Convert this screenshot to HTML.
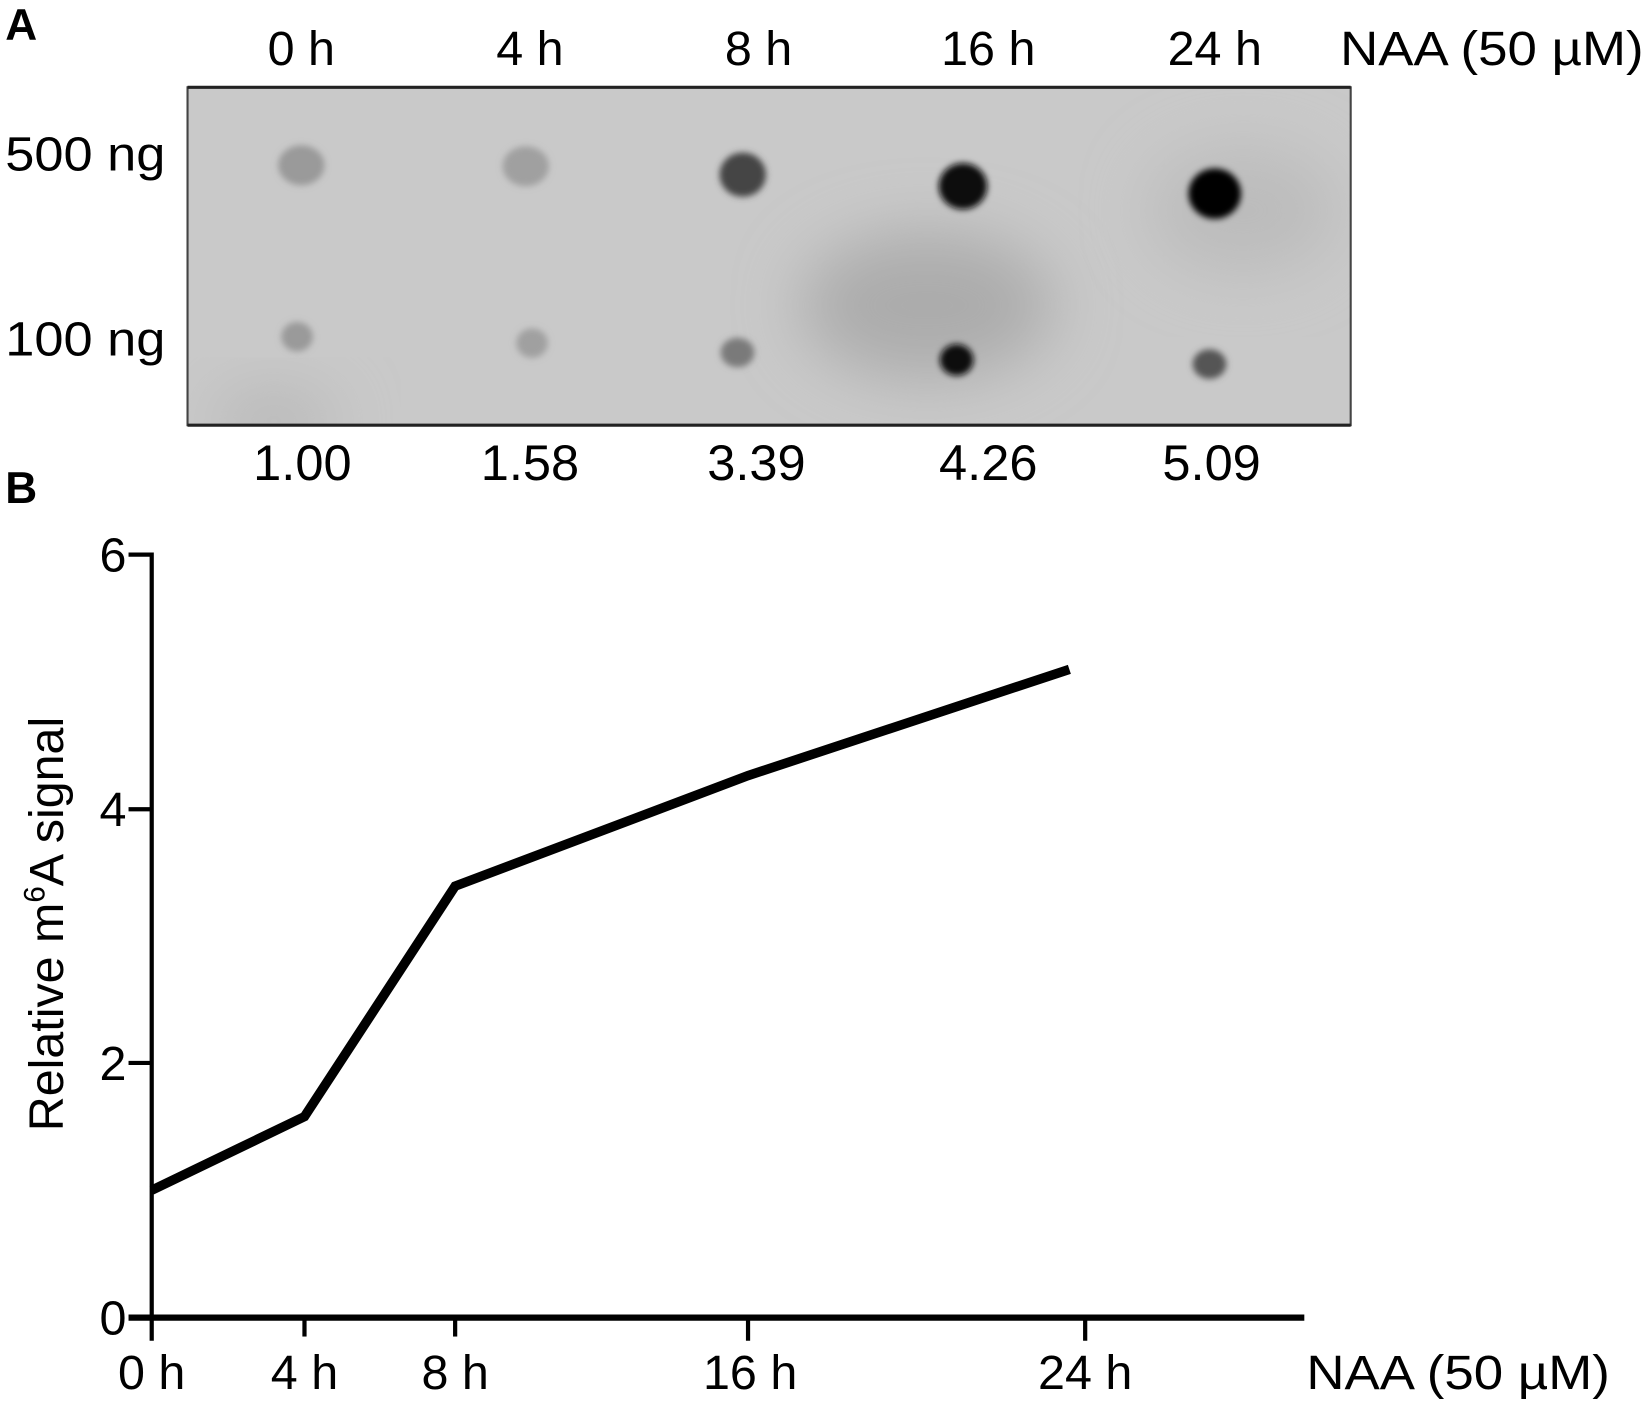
<!DOCTYPE html>
<html><head><meta charset="utf-8"><style>html,body{margin:0;padding:0;background:#fff}svg{display:block}</style></head>
<body>
<svg width="1652" height="1406" viewBox="0 0 1568 1336" preserveAspectRatio="none" xmlns="http://www.w3.org/2000/svg" font-family="Liberation Sans, sans-serif">
<defs>
<filter id="b" x="-50%" y="-50%" width="200%" height="200%"><feGaussianBlur stdDeviation="3"/></filter>
<filter id="bb" x="-50%" y="-50%" width="200%" height="200%"><feGaussianBlur stdDeviation="30"/></filter>
<clipPath id="c"><rect x="178" y="82" width="1104" height="323"/></clipPath>
</defs>
<text x="5" y="38" font-size="42" font-weight="bold">A</text>
<text x="5" y="478" font-size="42" font-weight="bold">B</text>
<g font-size="46" text-anchor="middle">
<text x="286" y="62">0 h</text><text x="503" y="62">4 h</text><text x="720" y="62">8 h</text><text x="938" y="62">16 h</text><text x="1153" y="62">24 h</text>
</g>
<text x="1272" y="62" font-size="46" textLength="288" lengthAdjust="spacingAndGlyphs">NAA (50 µM)</text>
<text x="5" y="162" font-size="46" textLength="152" lengthAdjust="spacingAndGlyphs">500 ng</text>
<text x="5" y="338" font-size="46" textLength="152" lengthAdjust="spacingAndGlyphs">100 ng</text>
<rect x="178" y="82" width="1104" height="323" fill="#c9c9c9"/>
<g clip-path="url(#c)">
<ellipse cx="880" cy="290" rx="120" ry="70" fill="#acacac" filter="url(#bb)"/>
<ellipse cx="1180" cy="200" rx="90" ry="60" fill="#bcbcbc" filter="url(#bb)"/>
<ellipse cx="260" cy="400" rx="60" ry="30" fill="#b8b8b8" filter="url(#bb)"/>
</g>
<line x1="178" y1="82" x2="178" y2="405" stroke="#444" stroke-width="2"/>
<line x1="1282" y1="82" x2="1282" y2="405" stroke="#444" stroke-width="2"/>
<line x1="178" y1="83" x2="1282" y2="83" stroke="#222" stroke-width="3"/>
<line x1="178" y1="404" x2="1282" y2="404" stroke="#222" stroke-width="3"/>
<g filter="url(#b)">
<ellipse cx="286" cy="157" rx="22" ry="19" fill="#9a9a9a"/>
<ellipse cx="499" cy="158" rx="22" ry="19" fill="#a0a0a0"/>
<ellipse cx="705" cy="166" rx="22" ry="21" fill="#444"/>
<ellipse cx="914" cy="177" rx="23" ry="22" fill="#0a0a0a"/>
<ellipse cx="1153" cy="184" rx="25" ry="24" fill="#050505"/>
<ellipse cx="282" cy="320" rx="15" ry="14" fill="#9a9a9a"/>
<ellipse cx="505" cy="326" rx="15" ry="14" fill="#a0a0a0"/>
<ellipse cx="700" cy="335" rx="16" ry="14" fill="#7a7a7a"/>
<ellipse cx="908" cy="342" rx="16" ry="15" fill="#111"/>
<ellipse cx="1148" cy="346" rx="16" ry="14" fill="#555"/>
</g>
<g font-size="48" text-anchor="middle">
<text x="287" y="456">1.00</text><text x="503" y="456">1.58</text><text x="718" y="456">3.39</text><text x="938" y="456">4.26</text><text x="1150" y="456">5.09</text>
</g>
<line x1="144" y1="525" x2="144" y2="1274" stroke="#000" stroke-width="4"/>
<line x1="122" y1="1252" x2="1238" y2="1252" stroke="#000" stroke-width="6"/>
<g stroke="#000" stroke-width="4">
<line x1="122" y1="527" x2="144" y2="527"/><line x1="122" y1="769" x2="144" y2="769"/><line x1="122" y1="1010" x2="144" y2="1010"/>
<line x1="289" y1="1252" x2="289" y2="1270"/><line x1="432" y1="1252" x2="432" y2="1270"/><line x1="710" y1="1252" x2="710" y2="1274"/><line x1="1030" y1="1252" x2="1030" y2="1274"/>
</g>
<g font-size="46" text-anchor="end">
<text x="120" y="543">6</text><text x="120" y="785">4</text><text x="120" y="1026">2</text><text x="120" y="1268">0</text>
</g>
<g font-size="46" text-anchor="middle">
<text x="144" y="1320">0 h</text><text x="289" y="1320">4 h</text><text x="432" y="1320">8 h</text><text x="712" y="1320">16 h</text><text x="1030" y="1320">24 h</text>
</g>
<text x="1240" y="1320" font-size="46" textLength="288" lengthAdjust="spacingAndGlyphs">NAA (50 µM)</text>
<text transform="translate(60,878) rotate(-90)" font-size="46" text-anchor="middle">Relative m<tspan font-size="28" dy="-18">6</tspan><tspan dy="18">A signal</tspan></text>
<polyline points="144,1131 289,1061 432,842 710,737 1015,636" fill="none" stroke="#000" stroke-width="9"/>
</svg>
</body></html>
